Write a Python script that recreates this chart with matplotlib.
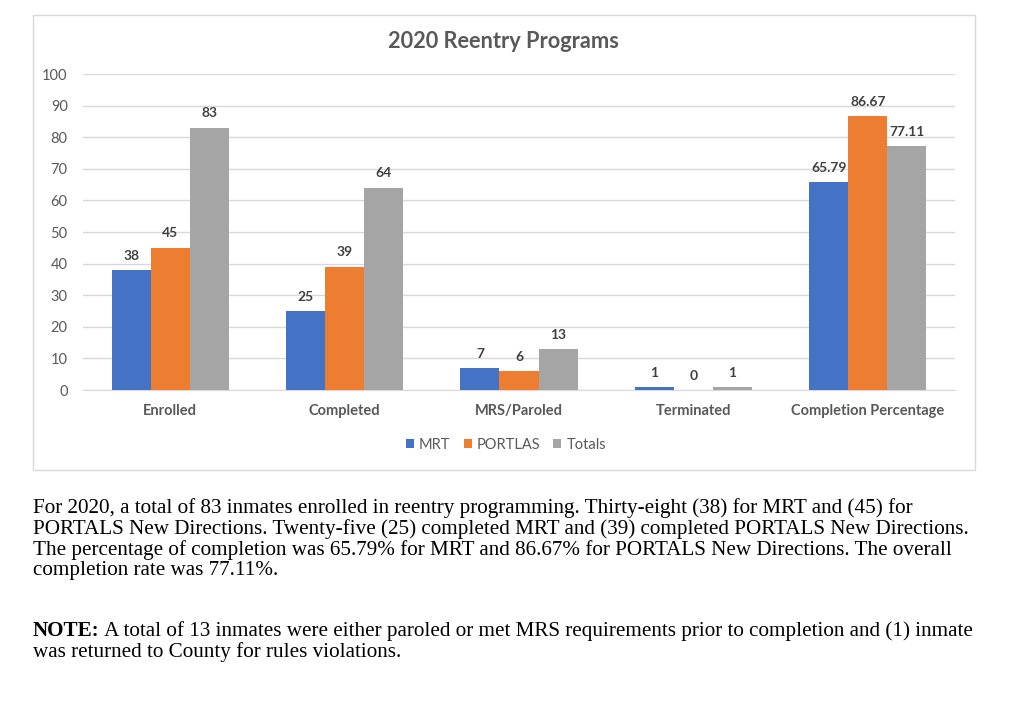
import matplotlib
matplotlib.use("Agg")
import matplotlib.pyplot as plt
from matplotlib.patches import Rectangle
import numpy as np

categories = ["Enrolled", "Completed", "MRS/Paroled", "Terminated", "Completion Percentage"]
mrt = [38, 25, 7, 1, 65.79]
portlas = [45, 39, 6, 0, 86.67]
totals = [83, 64, 13, 1, 77.11]
mrt_labels = ["38", "25", "7", "1", "65.79"]
portlas_labels = ["45", "39", "6", "0", "86.67"]
totals_labels = ["83", "64", "13", "1", "77.11"]
series_names = ["MRT", "PORTLAS", "Totals"]
yticks = list(range(0, 101, 10))
title = "2020 Reentry Programs"
para1 = [
    "For 2020, a total of 83 inmates enrolled in reentry programming. Thirty-eight (38) for MRT and (45) for",
    "PORTALS New Directions. Twenty-five (25) completed MRT and (39) completed PORTALS New Directions.",
    "The percentage of completion was 65.79% for MRT and 86.67% for PORTALS New Directions. The overall",
    "completion rate was 77.11%.",
]
note_bold = "NOTE:"
note_rest = [
    " A total of 13 inmates were either paroled or met MRS requirements prior to completion and (1) inmate",
    "was returned to County for rules violations.",
]

colors = ["#4472C4", "#ED7D31", "#A5A5A5"]
W, H = 1009, 720
fig = plt.figure(figsize=(W / 100, H / 100), dpi=100)
fig.patch.set_facecolor("white")

# chart border
fig.patches.append(Rectangle((33 / W, 1 - 470 / H), (975 - 33) / W, (470 - 15) / H,
                             transform=fig.transFigure, fill=False, edgecolor="#d9d9d9", lw=1))

ax = fig.add_axes([83 / W, 1 - 390 / H, (955 - 83) / W, (390 - 74) / H])
x = np.arange(len(categories))
bw = 0.224
font = "Lato"
for i, (vals, labs) in enumerate([(mrt, mrt_labels), (portlas, portlas_labels), (totals, totals_labels)]):
    pos = x + (i - 1) * bw
    ax.bar(pos, vals, width=bw, color=colors[i], label=series_names[i], zorder=3)
    for px_, v, l in zip(pos, vals, labs):
        ax.annotate(l, (px_, v), xytext=(0, 6), textcoords="offset points", ha="center", va="bottom",
                    fontsize=10, fontweight="bold", color="#404040", family=font)

ax.set_xlim(-0.5, len(categories) - 0.5)
ax.set_ylim(0, 100)
ax.set_yticks(yticks)
ax.set_yticklabels([str(t) for t in yticks], fontsize=10.5, color="#595959", family=font)
ax.set_xticks(x)
ax.set_xticklabels(categories, fontsize=10.5, fontweight="bold", color="#595959", family=font)
ax.tick_params(axis="both", length=0)
ax.tick_params(axis="x", pad=10)
ax.tick_params(axis="y", pad=11)
ax.yaxis.grid(True, color="#d9d9d9", lw=1, zorder=0)
for s in ["top", "right", "left"]:
    ax.spines[s].set_visible(False)
ax.spines["bottom"].set_color("#d9d9d9")
ax.set_facecolor("none")

fig.text(503 / W, 1 - 42 / H, title, ha="center", va="center", fontsize=15.7, fontweight="bold",
         color="#595959", family=font)

leg = fig.legend(loc="center", bbox_to_anchor=(506 / W, 1 - 445 / H), ncol=3, frameon=False,
                 prop={"family": font, "size": 10.5}, handlelength=0.55, handleheight=0.55,
                 handletextpad=0.35, columnspacing=0.9)
for t in leg.get_texts():
    t.set_color("#595959")

serif = "Liberation Serif"
fs = 15.2
ys = [508, 529, 550, 571]
for yy, line in zip(ys, para1):
    fig.text(33 / W, 1 - yy / H, line, ha="left", va="center", fontsize=fs, family=serif, color="black")

t1 = fig.text(33 / W, 1 - 631 / H, note_bold, ha="left", va="center", fontsize=fs, family=serif,
              fontweight="bold", color="black")
fig.canvas.draw()
bb = t1.get_window_extent()
fig.text(bb.x1 / W, 1 - 631 / H, note_rest[0], ha="left", va="center", fontsize=fs, family=serif, color="black")
fig.text(33 / W, 1 - 652 / H, note_rest[1], ha="left", va="center", fontsize=fs, family=serif, color="black")

fig.savefig("out.png", dpi=100, facecolor="white")
